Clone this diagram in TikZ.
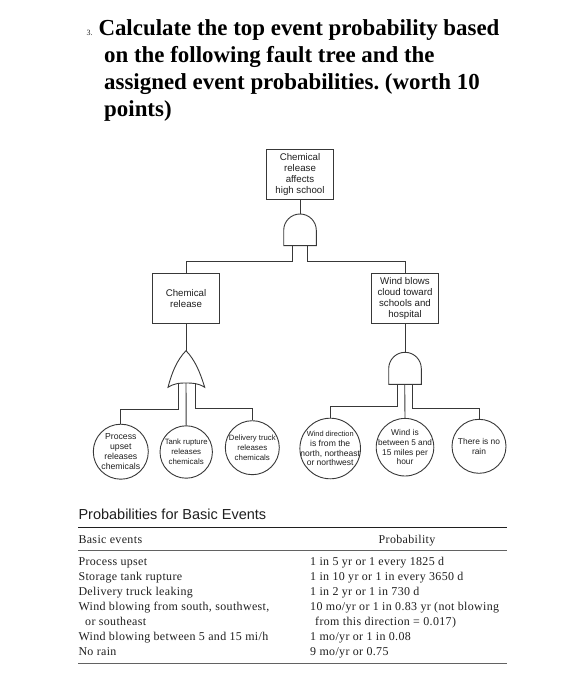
\documentclass[tikz,border=0pt]{standalone}
\usepackage{fontspec}
\setmainfont{Liberation Serif}
\newfontfamily\diagfont{Liberation Sans}
\newfontfamily\tabfont[LetterSpace=3]{Liberation Serif}
\definecolor{ink}{gray}{0.12}
\definecolor{lineink}{gray}{0.22}
\newcommand{\sz}[1]{\fontsize{#1}{10}\selectfont}
\tikzset{
  x=1pt,y=-1pt,
  lnk/.style={draw=lineink,line width=0.9pt},
  evbox/.style={draw=lineink,line width=0.9pt,rectangle,inner sep=0pt,align=center,text=ink,
    font=\diagfont\fontsize{9.7}{11}\selectfont,minimum width=67pt},
  basecirc/.style={draw=lineink,line width=0.9pt,circle,inner sep=0pt},
  circtext/.style={inner sep=0pt,align=center,text=ink,font=\diagfont\fontsize{8.7}{9.8}\selectfont},
  headline/.style={anchor=base west,inner sep=0pt,text=black,font=\bfseries\fontsize{22.9}{25}\selectfont},
  tab/.style={anchor=base west,inner sep=0pt,text=ink,font=\tabfont\fontsize{11.95}{13}\selectfont},
  rulethick/.style={draw=ink,line width=1.2pt},
  rulethin/.style={draw=ink!70,line width=0.9pt},
}
\begin{document}
\begin{tikzpicture}
\frenchspacing
\useasboundingbox (0,0) rectangle (585,700);
\fill[white] (0,0) rectangle (585,700);
% heading
\node[anchor=base west,inner sep=0pt,text=ink,font=\fontsize{8}{9}\selectfont] (qn) at (86.5,35.7) {3.};
\node[headline] (h1) at (98.3,35.7) {Calculate the top event probability based};
\node[headline] (h2) at (104,62.7) {on the following fault tree and the};
\node[headline] (h3) at (104,89.3) {assigned event probabilities. (worth 10};
\node[headline] (h4) at (104,116.7) {points)};
% boxes
\node[evbox,minimum height=50.3pt] (top) at (300,174.2) {Chemical\\release\\affects\\high school};
\node[evbox,minimum height=50pt] (chem) at (186,298.3) {Chemical\\release};
\node[evbox,minimum height=50pt] (wind) at (405,298.3) {Wind blows\\cloud toward\\schools and\\hospital};
% gates
\coordinate (g1top) at (300,214);
\coordinate (g1l) at (292.3,245.7);
\coordinate (g1r) at (307.3,245.7);
\coordinate (k1) at (300,261.7);
\draw[lnk,fill=white] (283.7,245.7) -- (283.7,230.3) .. controls (283.7,221.3) and (291,214) .. (g1top)
  .. controls (309,214) and (316.3,221.3) .. (316.3,230.3) -- (316.3,245.7) -- cycle;
\coordinate (g2top) at (186,350.7);
\coordinate (g2l) at (178.7,383.6);
\coordinate (g2c) at (186,383);
\coordinate (g2r) at (195.3,383.3);
\coordinate (k2l) at (150,409.3);
\coordinate (k2r) at (220,408);
\draw[lnk,fill=white] (168,387.3) .. controls (172,372) and (177,360) .. (g2top)
  .. controls (195,360) and (200,372) .. (204.7,387.3)
  .. controls (198,383) and (192,383) .. (g2c) .. controls (180,383) and (175,383) .. cycle;
\coordinate (g3top) at (405,352.3);
\coordinate (g3l) at (397,384.3);
\coordinate (g3c) at (404.7,384.3);
\coordinate (g3r) at (412.7,384.3);
\coordinate (k3l) at (360,406.7);
\coordinate (k3r) at (440,408);
\draw[lnk,fill=white] (388.7,384.3) -- (388.7,368.6) .. controls (388.7,359.6) and (396,352.3) .. (g3top)
  .. controls (414,352.3) and (421.3,359.6) .. (421.3,368.6) -- (421.3,384.3) -- cycle;
% basic events
\node[basecirc,minimum size=55pt] (c1) at (120.8,451.7) {};
\node[basecirc,minimum size=52.4pt] (c2) at (186.2,452) {};
\node[basecirc,minimum size=54pt] (c3) at (252.3,447.7) {};
\node[basecirc,minimum size=60.6pt] (c4) at (330.2,448.5) {};
\node[basecirc,minimum size=57.6pt] (c5) at (405,447.2) {};
\node[basecirc,minimum size=54pt] (c6) at (479,446.3) {};
\node[circtext] (t1) at (c1) {Process\\upset\\releases\\chemicals};
\node[circtext] (t2) at (c2) {\sz{7.7}Tank rupture\\\sz{7.9}releases\\\sz{7.9}chemicals};
\node[circtext] (t3) at (c3) {\sz{7.7}Delivery truck\\\sz{7.9}releases\\\sz{7.9}chemicals};
\node[circtext] (t4) at (c4) {\sz{7.4}Wind direction\\\sz{8.6}is from the\\\sz{8.5}north, northeast\\\sz{8.5}or northwest};
\node[circtext] (t5) at (c5) {\sz{8.4}Wind is\\\sz{8.2}between 5 and\\\sz{8.4}15 miles per\\\sz{8.4}hour};
\node[circtext] (t6) at (c6) {\sz{8.4}There is no\\\sz{8.4}rain};
% connectors
\draw[lnk] (top.south) -- (g1top);
\draw[lnk] (g1l) -- (g1l |- k1) -| (chem.north);
\draw[lnk] (g1r) -- (g1r |- k1) -| (wind.north);
\draw[lnk] (chem.south) -- (g2top);
\draw[lnk] (wind.south) -- (g3top);
\draw[lnk] (g2l) -- (g2l |- k2l) -| (c1.north);
\draw[lnk] (g2c) -- (c2.north);
\draw[lnk] (g2r) -- (g2r |- k2r) -| (c3.north);
\draw[lnk] (g3l) -- (g3l |- k3l) -| (c4.north);
\draw[lnk] (g3c) -- (c5.north);
\draw[lnk] (g3r) -- (g3r |- k3r) -| (c6.north);
% table
\node[anchor=base west,inner sep=0pt,text=ink,font=\diagfont\fontsize{14.5}{16}\selectfont] (ttl) at (78.3,519) {Probabilities for Basic Events};
\coordinate (rl) at (78.3,527.7);
\coordinate (rr) at (506.7,527.7);
\draw[rulethick] (rl) -- (rr);
\draw[rulethin] (rl |- 0,550.7) -- (rr |- 0,550.7);
\draw[rulethin] (rl |- 0,663.3) -- (rr |- 0,663.3);
\node[tab] (a0) at (78.3,543.3) {Basic events};
\node[tab,anchor=base] (b0) at (407,543.3) {Probability};
\node[tab] (a1) at (78.3,565.7) {Process upset};
\node[tab] (a2) at (78.3,580.7) {Storage tank rupture};
\node[tab] (a3) at (78.3,595.7) {Delivery truck leaking};
\node[tab] (a4) at (78.3,610.7) {Wind blowing from south, southwest,};
\node[tab] (a5) at (85,625.7) {or southeast};
\node[tab] (a6) at (78.3,640.7) {Wind blowing between 5 and 15 mi/h};
\node[tab] (a7) at (78.3,655.7) {No rain};
\node[tab] (b1) at (310,565.7) {1 in 5 yr or 1 every 1825 d};
\node[tab] (b2) at (310,580.7) {1 in 10 yr or 1 in every 3650 d};
\node[tab] (b3) at (310,595.7) {1 in 2 yr or 1 in 730 d};
\node[tab] (b4) at (310,610.7) {10 mo/yr or 1 in 0.83 yr (not blowing};
\node[tab] (b5) at (315,625.7) {from this direction = 0.017)};
\node[tab] (b6) at (310,640.7) {1 mo/yr or 1 in 0.08};
\node[tab] (b7) at (310,655.7) {9 mo/yr or 0.75};
\end{tikzpicture}
\end{document}
